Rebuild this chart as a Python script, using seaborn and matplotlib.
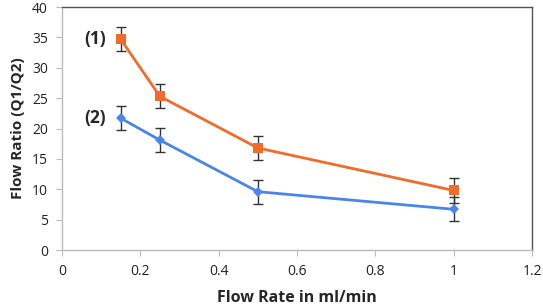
import matplotlib
matplotlib.use("Agg")
import matplotlib.pyplot as plt
import seaborn as sns
import pandas as pd

flow_rate = [0.15, 0.25, 0.5, 1.0]
ratio_1 = [34.7, 25.3, 16.8, 9.8]
err_1 = [2.0, 2.0, 2.0, 2.0]
ratio_2 = [21.7, 18.1, 9.6, 6.7]
err_2 = [2.0, 2.0, 2.0, 2.0]
x_ticks = [0, 0.2, 0.4, 0.6, 0.8, 1, 1.2]
x_tick_labels = ["0", "0.2", "0.4", "0.6", "0.8", "1", "1.2"]
y_ticks = [0, 5, 10, 15, 20, 25, 30, 35, 40]

sns.set_theme(style="white")
plt.rcParams["font.family"] = ["Open Sans", "DejaVu Sans"]

df = pd.DataFrame({
    "x": flow_rate * 2,
    "y": ratio_1 + ratio_2,
    "err": err_1 + err_2,
    "series": ["(1)"] * 4 + ["(2)"] * 4,
})

fig = plt.figure(figsize=(5.43, 3.06), dpi=100)
ax = fig.add_axes([0.114, 0.183, 0.866, 0.794])

orange = "#F26B2A"
blue = "#4A86E8"
sns.lineplot(data=df, x="x", y="y", hue="series", style="series",
             markers={"(1)": "s", "(2)": "D"}, dashes=False,
             palette={"(1)": orange, "(2)": blue}, markersize=7,
             markeredgewidth=0, linewidth=2, legend=False, ax=ax)
ax.lines[1].set_markersize(5.5)

for sub in ["(1)", "(2)"]:
    d = df[df.series == sub]
    ax.errorbar(d.x, d.y, yerr=d.err, fmt="none", ecolor="#333333",
                elinewidth=1, capsize=3.5, capthick=1, zorder=1)

ax.set_xlim(0, 1.2)
ax.set_ylim(0, 40)
ax.set_xticks(x_ticks)
ax.set_xticklabels(x_tick_labels)
ax.set_yticks(y_ticks)
ax.tick_params(axis="both", labelsize=10, colors="#222222", length=4,
               width=0.8, direction="out", bottom=True, left=True, pad=6)
ax.tick_params(axis="both", color="#BBBBBB")
for side in ["left", "bottom"]:
    ax.spines[side].set_color("#BBBBBB")
    ax.spines[side].set_linewidth(1)
for side in ["top", "right"]:
    ax.spines[side].set_color("#555555")
    ax.spines[side].set_linewidth(1)

ax.set_xlabel("Flow Rate in ml/min", fontsize=11.5, fontweight="bold", labelpad=8)
ax.set_ylabel("Flow Ratio (Q1/Q2)", fontsize=11, fontweight="bold", labelpad=5)

ax.text(0.085, 34.8, "(1)", fontsize=12.5, fontweight="bold", ha="center", va="center")
ax.text(0.085, 21.8, "(2)", fontsize=12.5, fontweight="bold", ha="center", va="center")

fig.savefig("out.png", dpi=100)
